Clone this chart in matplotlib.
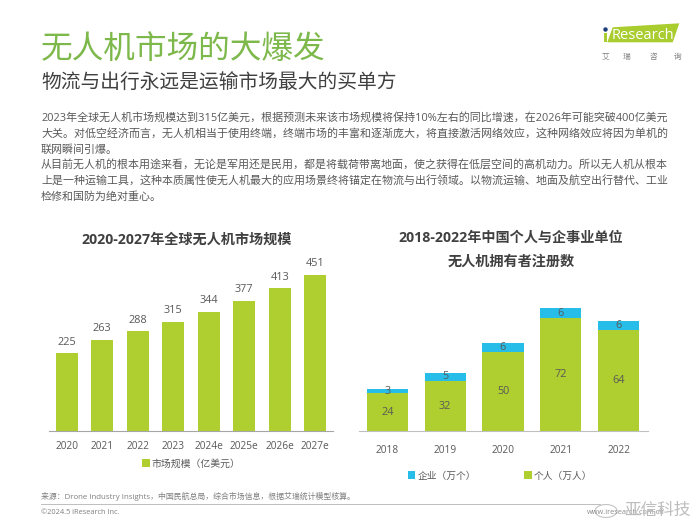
import matplotlib
matplotlib.use('Agg')
import matplotlib.pyplot as plt
from matplotlib.patches import Polygon, Ellipse

plt.rcParams['font.family'] = ['Open Sans', 'Noto Sans CJK SC', 'DejaVu Sans']

########## data ##########
years_left = ['2020', '2021', '2022', '2023', '2024e', '2025e', '2026e', '2027e']
market_size = [225, 263, 288, 315, 344, 377, 413, 451]

years_right = ['2018', '2019', '2020', '2021', '2022']
personal = [24, 32, 50, 72, 64]
company = [3, 5, 6, 6, 6]

title = '无人机市场的大爆发'
subtitle = '物流与出行永远是运输市场最大的买单方'
body_lines = [
    '2023年全球无人机市场规模达到315亿美元，根据预测未来该市场规模将保持10%左右的同比增速，在2026年可能突破400亿美元',
    '大关。对低空经济而言，无人机相当于使用终端，终端市场的丰富和逐渐庞大，将直接激活网络效应，这种网络效应将因为单机的',
    '联网瞬间引爆。',
    '从目前无人机的根本用途来看，无论是军用还是民用，都是将载荷带离地面，使之获得在低层空间的高机动力。所以无人机从根本',
    '上是一种运输工具，这种本质属性使无人机最大的应用场景终将锚定在物流与出行领域。以物流运输、地面及航空出行替代、工业',
    '检修和国防为绝对重心。',
]
source = '来源：Drone Industry Insights，中国民航总局，综合市场信息，根据艾瑞统计模型核算。'

GREEN = '#AECF2F'
BLUE = '#27BDE9'
GREY = '#595959'
W, H = 700, 525


def px_axes(fig, left, right, top, bottom):
    return fig.add_axes([left / W, 1 - bottom / H, (right - left) / W, (bottom - top) / H])


fig = plt.figure(figsize=(7, 5.25), dpi=100)

# page layer in pixel coordinates
bg = fig.add_axes([0, 0, 1, 1])
bg.set_xlim(0, W)
bg.set_ylim(H, 0)
bg.axis('off')

bg.text(41, 49, title, fontsize=22.8, color='#7DB84A', va='center')
bg.text(41, 84, subtitle, fontsize=14.2, color='#404040', va='center')
for y, line in zip([118, 134, 150, 165, 181, 197], body_lines):
    bg.text(41, y, line, fontsize=7.9, color=GREY, va='center')

bg.text(187, 240, '2020-2027年全球无人机市场规模', fontsize=10.2, fontweight='bold',
        color='#404040', ha='center', va='center')
bg.text(511, 238, '2018-2022年中国个人与企事业单位', fontsize=10.2, fontweight='bold',
        color='#404040', ha='center', va='center')
bg.text(511, 262, '无人机拥有者注册数', fontsize=10.2, fontweight='bold',
        color='#404040', ha='center', va='center')

# logo
bg.add_patch(Polygon([(612.7, 27.3), (679.3, 23.3), (672.7, 42.3), (607.3, 42.3)],
                     closed=True, color='#A9CC2E', lw=0))
bg.add_patch(Polygon([(604, 33), (607, 33), (607, 42.3), (604, 42.3)], closed=True,
                     color='#A9CC2E', lw=0))
bg.plot([605.3], [29], 'o', ms=2.2, color='#1F3F7A')
bg.text(643, 35.5, 'Research', fontsize=10.5, color='white', ha='center', va='center')
for x, ch in zip([605, 626, 653, 678], '艾瑞咨询'):
    bg.text(x, 57, ch, fontsize=5.5, color='#7F7F7F', ha='center', va='center')

# footer
bg.plot([41, 600], [504, 504], color='#BFBFBF', lw=0.7)
bg.text(41, 496, source, fontsize=5.7, color='#7F7F7F', va='center')
bg.text(41, 512, '©2024.5 iResearch Inc.', fontsize=5.3, color='#7F7F7F', va='center')

# watermark over the footer corner
bg.add_patch(Ellipse((606, 511), 22, 13, fill=False, ec='#C4C4C4', lw=0.8))
bg.text(665, 512, 'www.iresearch.com.cn', fontsize=5.3, color='#8C8C8C', va='center', ha='right')
bg.text(691, 511, '亚信科技', fontsize=12, color='#BDBDBD', ha='right', va='center')

########## left chart ##########
ax1 = px_axes(fig, 49, 333, 275 - 156 * 0.1, 431)
ax1.patch.set_alpha(0)
bars = ax1.bar(years_left, market_size, width=0.63, color=GREEN, label='市场规模（亿美元）')
ax1.set_xlim(-0.5, 7.5)
ax1.set_ylim(0, 451 * 1.1)
ax1.bar_label(bars, padding=4, fontsize=7.8, color=GREY)
ax1.set_yticks([])
for s in ['top', 'left', 'right']:
    ax1.spines[s].set_visible(False)
ax1.spines['bottom'].set_color('#A6A6A6')
ax1.tick_params(axis='x', length=0, labelsize=7.3, labelcolor=GREY, pad=7)
ax1.legend(loc='upper center', bbox_to_anchor=(0.5, -0.16), frameon=False, fontsize=7.1,
           labelcolor=GREY, handlelength=0.8, handleheight=0.8, handletextpad=0.2,
           borderpad=0, borderaxespad=0)

########## right chart ##########
ax2 = px_axes(fig, 358.5, 647.5, 308.3 - 123 * 0.1, 431.3)
ax2.patch.set_alpha(0)
b_comp = ax2.bar(years_right, company, bottom=personal, width=0.715, color=BLUE, label='企业（万个）')
b_pers = ax2.bar(years_right, personal, width=0.715, color=GREEN, label='个人（万人）')
ax2.set_xlim(-0.5, 4.5)
ax2.set_ylim(0, 78 * 1.1)
ax2.bar_label(b_pers, label_type='center', fontsize=7.8, color=GREY)
ax2.bar_label(b_comp, label_type='center', fontsize=7.8, color=GREY)
ax2.set_yticks([])
for s in ['top', 'left', 'right']:
    ax2.spines[s].set_visible(False)
ax2.spines['bottom'].set_color('#BFBFBF')
ax2.tick_params(axis='x', length=0, labelsize=7.3, labelcolor=GREY, pad=10)
ax2.legend(loc='upper center', bbox_to_anchor=(0.49, -0.29), frameon=False, fontsize=7, ncol=2,
           labelcolor=GREY, handlelength=0.8, handleheight=0.8, handletextpad=0.2,
           columnspacing=5.0, borderpad=0, borderaxespad=0)

fig.savefig('out.png', dpi=100)
